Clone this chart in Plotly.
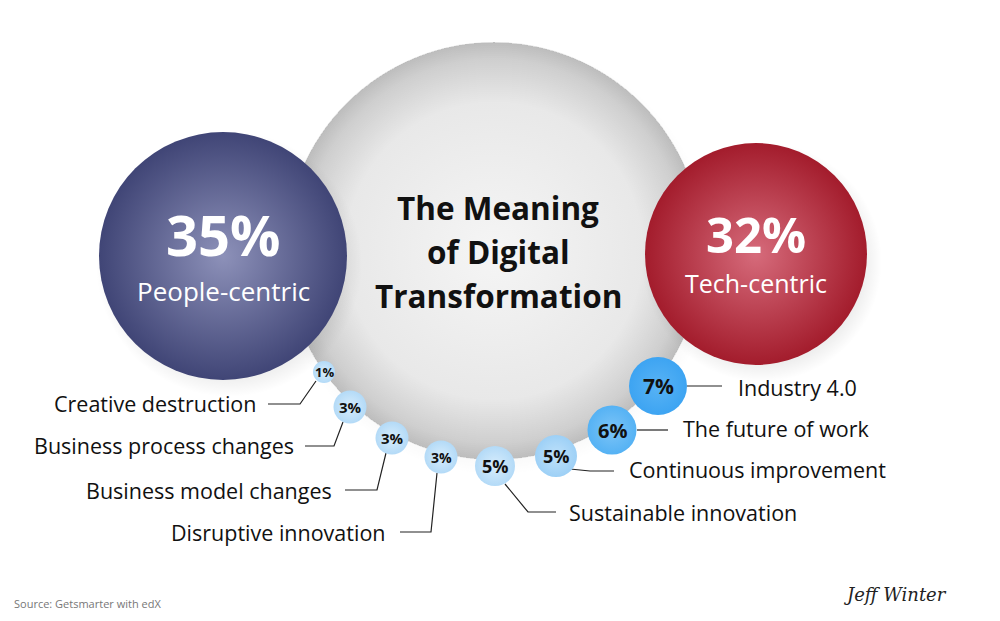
import plotly.graph_objects as go

# ---------------- data ----------------
main_labels = ["People-centric", "Tech-centric"]
main_values = [35, 32]
sub_labels = ["Creative destruction", "Business process changes", "Business model changes",
              "Disruptive innovation", "Sustainable innovation", "Continuous improvement",
              "The future of work", "Industry 4.0"]
sub_values = [1, 3, 3, 3, 5, 5, 6, 7]
title_lines = ["The Meaning", "of Digital", "Transformation"]
source_text = "Source: Getsmarter with edX"
signature_text = "Jeff Winter"

# ---------------- layout (pixel space) ----------------
FONT = "Open Sans"
center_circle = dict(x=494, y=251, r=209)
main_pos = [dict(x=223, y=256, r=124), dict(x=756, y=254, r=111)]
main_text = [dict(py=234, ly=291, ps=56, ls=26), dict(py=234, ly=283, ps=49, ls=25)]
# (edge colour, centre colour)
main_colors = [("#404576", "#8d91b9"), ("#a31c2c", "#d66b7b")]

sub_pos = [dict(x=324, y=372, r=11), dict(x=350, y=407, r=16.5), dict(x=392, y=438, r=16.5),
           dict(x=441, y=457, r=16.5), dict(x=495, y=466, r=20), dict(x=556, y=456, r=21),
           dict(x=612, y=430, r=24.5), dict(x=658, y=386, r=29)]
sub_colors = [("#b3daf7", "#d8edfc")] * 5 + [("#9dd0f6", "#bfe1fa"), ("#55b2f4", "#7cc4f7"),
                                               ("#3da4f2", "#58b3f5")]
sub_font = [13, 15, 15, 14, 18, 18, 20, 21]
# connector paths: bubble -> elbow -> end
connectors = [
    [(316, 381), (300, 404), (268, 404)],
    [(343, 422), (334, 446), (305, 446)],
    [(386, 453), (377, 490), (345, 490)],
    [(437, 473), (431, 532), (400, 532)],
    [(505, 484), (528, 512), (556, 512)],
    [(570, 469), (590, 471), (614, 471)],
    [(637, 430), (668, 430)],
    [(687, 386), (722, 386)],
]
label_anchor = [(258, 403, "right"), (296, 445, "right"), (334, 490, "right"), (388, 532, "right"),
                (567, 512, "left"), (627, 469, "left"), (681, 428, "left"), (736, 387, "left")]

fig = go.Figure()


def bubble(x, y, r, c_edge, c_center):
    # plotly radial gradient: marker.color at the rim, gradient.color at the centre
    fig.add_trace(go.Scatter(
        x=[x], y=[y], mode="markers", hoverinfo="skip", showlegend=False,
        marker=dict(size=2 * r, color=c_edge, line=dict(width=0),
                    gradient=dict(type="radial", color=c_center))))


def rim(x, y, r, w, a):
    fig.add_trace(go.Scatter(
        x=[x], y=[y], mode="markers", hoverinfo="skip", showlegend=False,
        marker=dict(size=2 * r - w, color="rgba(0,0,0,0)",
                    line=dict(width=w, color=f"rgba(0,0,0,{a})"))))


def shadow(x, y, r, dx=6, dy=8, a=0.28, spread=14):
    fig.add_trace(go.Scatter(
        x=[x + dx], y=[y + dy], mode="markers", hoverinfo="skip", showlegend=False,
        marker=dict(size=2 * r + spread, color="rgba(0,0,0,0)", line=dict(width=0),
                    gradient=dict(type="radial", color=f"rgba(0,0,0,{a})"))))


# central grey circle with a soft darker rim (many thin, faint bands)
c = center_circle
shadow(c["x"], c["y"], c["r"], 3, 7, 0.3, 16)
bubble(c["x"], c["y"], c["r"], "#e3e3e3", "#f5f5f5")
for k in range(1, 31):
    rim(c["x"], c["y"], c["r"], 2 * k, 0.009 if k <= 8 else 0.0035)

# main circles
for p, (ce, cc) in zip(main_pos, main_colors):
    shadow(p["x"], p["y"], p["r"], 6, 8, 0.45, 18)
    bubble(p["x"], p["y"], p["r"], ce, cc)

# connector lines
for path in connectors:
    fig.add_trace(go.Scatter(x=[q[0] for q in path], y=[q[1] for q in path], mode="lines",
                             hoverinfo="skip", showlegend=False,
                             line=dict(color="#222222", width=1.2)))

# small bubbles
for p, (ce, cc) in zip(sub_pos, sub_colors):
    bubble(p["x"], p["y"], p["r"], ce, cc)

annotations = []
# main percentages
for p, t, v, lab in zip(main_pos, main_text, main_values, main_labels):
    annotations.append(dict(x=p["x"], y=t["py"], text=f"<b>{v}%</b>", showarrow=False,
                            font=dict(family=FONT, size=t["ps"], color="white")))
    annotations.append(dict(x=p["x"], y=t["ly"], text=lab, showarrow=False,
                            font=dict(family=FONT, size=t["ls"], color="white")))
# title
for i, t in enumerate(title_lines):
    annotations.append(dict(x=498, y=207 + 44 * i, text=f"<b>{t}</b>", showarrow=False,
                            font=dict(family=FONT, size=31.5, color="#111111")))
# sub values
for p, v, fs in zip(sub_pos, sub_values, sub_font):
    annotations.append(dict(x=p["x"], y=p["y"], text=f"<b>{v}%</b>", showarrow=False,
                            font=dict(family=FONT, size=fs, color="#111111")))
# sub labels
for lab, (x, y, anc) in zip(sub_labels, label_anchor):
    annotations.append(dict(x=x, y=y, text=lab, showarrow=False, xanchor=anc,
                            font=dict(family=FONT, size=21.5, color="#111111")))
# source & signature
annotations.append(dict(x=12, y=603, text=source_text, showarrow=False, xanchor="left",
                        font=dict(family=FONT, size=11, color="#777777")))
annotations.append(dict(x=895, y=594, text=signature_text, showarrow=False,
                        font=dict(family="DejaVu Serif", size=18, color="#222222", style="italic")))

fig.update_layout(
    width=1000, height=621, margin=dict(l=0, r=0, t=0, b=0),
    paper_bgcolor="white", plot_bgcolor="white",
    xaxis=dict(range=[0, 1000], visible=False, fixedrange=True),
    yaxis=dict(range=[621, 0], visible=False, fixedrange=True),
    annotations=annotations, showlegend=False,
)
fig.write_html("out.html")
